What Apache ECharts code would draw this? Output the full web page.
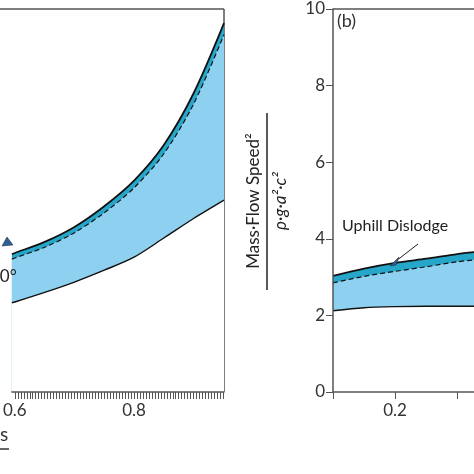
<!DOCTYPE html><html><head><meta charset="utf-8"><script src="https://cdn.jsdelivr.net/npm/echarts@6/dist/echarts.min.js"></script>
<style>html,body{margin:0;padding:0;background:#fff}#c{width:474px;height:474px}</style></head><body><div id="c"></div><script>
// Panel (a)
const aX=[0.595,0.6,0.65,0.7,0.75,0.8,0.85,0.9,0.951];
const aUpper=[3.60,3.63,3.92,4.31,4.85,5.52,6.45,7.80,9.63];
const aDashed=[3.47,3.50,3.78,4.16,4.68,5.33,6.22,7.52,9.33];
const aLower=[2.33,2.35,2.60,2.87,3.18,3.52,4.02,4.53,5.01];
// Panel (b)
const bX=[0.1,0.15,0.2,0.25,0.3,0.327];
const bUpper=[3.03,3.22,3.37,3.48,3.60,3.65];
const bDashed=[2.85,3.02,3.15,3.27,3.40,3.45];
const bLower=[2.12,2.20,2.23,2.24,2.24,2.24];
const yTicks=[0,2,4,6,8,10];
const aTicks=[0.6,0.8];
const bTicks=[0.2];

const F='Lato, "DejaVu Sans", sans-serif';
const LIGHT='#8ed0ef', TEAL='#26a6c9';
function pts(x,y){return x.map((v,i)=>[v,y[i]]);}
function band(gi,x,up,da,lo){
  const base={type:'line',xAxisIndex:gi,yAxisIndex:gi,symbol:'none',smooth:0.3};
  return [
    {...base,data:pts(x,up),z:1,lineStyle:{opacity:0},areaStyle:{color:TEAL,opacity:1,origin:'start'}},
    {...base,data:pts(x,da),z:2,lineStyle:{opacity:0},areaStyle:{color:LIGHT,opacity:1,origin:'start'}},
    {...base,data:pts(x,lo),z:3,lineStyle:{opacity:0},areaStyle:{color:'#fff',opacity:1,origin:'start'}},
    {...base,data:pts(x,up),z:5,lineStyle:{color:'#111',width:1.8}},
    {...base,data:pts(x,da),z:5,lineStyle:{color:'#111',width:1.2,type:[5,3]}},
    {...base,data:pts(x,lo),z:5,lineStyle:{color:'#111',width:1.4}}
  ];
}
const near=(v,arr)=>arr.some(t=>Math.abs(t-v)<1e-6);
const axLine={show:true,lineStyle:{color:'#555',width:1.5}};
const c=echarts.init(document.getElementById('c'));
c.setOption({
  animation:false,
  grid:[{left:0,right:250,top:9,bottom:82},{left:333,right:0,top:9,bottom:82}],
  xAxis:[
    {type:'value',gridIndex:0,min:0.595,max:0.951,interval:0.005,axisLine:axLine,splitLine:{show:false},z:10,
     axisTick:{show:true,length:7,lineStyle:{color:'#555'},interval:(i,v)=>near(+v,aTicks)},
     axisLabel:{fontFamily:F,fontSize:17,color:'#333',margin:10,showMaxLabel:false,showMinLabel:false,formatter:v=>near(v,aTicks)?v.toFixed(1):''}},
    {type:'value',gridIndex:1,min:0.1,max:0.327,interval:0.1,axisLine:axLine,splitLine:{show:false},z:10,
     axisTick:{show:true,length:7,lineStyle:{color:'#555'},interval:(i,v)=>near(+v,bTicks)},
     axisLabel:{fontFamily:F,fontSize:17,color:'#333',margin:10,showMaxLabel:false,formatter:v=>near(v,bTicks)?v.toFixed(1):''}}
  ],
  yAxis:[
    {type:'value',gridIndex:0,min:0,max:10,interval:2,axisLine:{show:false},axisTick:{show:false},axisLabel:{show:false},splitLine:{show:false}},
    {type:'value',gridIndex:1,min:0,max:10,interval:2,axisLine:axLine,z:10,axisTick:{show:true,length:7,lineStyle:{color:'#555'}},splitLine:{show:false},
     axisLabel:{fontFamily:F,fontSize:17,color:'#333',margin:8,formatter:v=>yTicks.includes(v)?String(v):''}}
  ],
  series:[...band(0,aX,aUpper,aDashed,aLower),...band(1,bX,bUpper,bDashed,bLower)],
  graphic:[
    {type:'line',shape:{x1:0,y1:9,x2:224,y2:9},style:{stroke:'#555',lineWidth:1.5}},
    {type:'line',shape:{x1:224,y1:9,x2:224,y2:392},style:{stroke:'#555',lineWidth:1.5}},
    {type:'line',shape:{x1:333,y1:9,x2:474,y2:9},style:{stroke:'#555',lineWidth:1.5}},
    {type:'text',left:337,top:12,style:{text:'(b)',font:'18px '+F,fill:'#333'}},
    {type:'text',x:342,y:218,style:{text:'Uphill Dislodge',font:'16px '+F,fill:'#222'}},
    {type:'line',z:20,shape:{x1:418,y1:244,x2:396,y2:261},style:{stroke:'#222',lineWidth:1}},
    {type:'polygon',z:20,shape:{points:[[390,266],[399,257],[396,265]]},style:{fill:'#2a5f9a',stroke:'#222',lineWidth:0.5}},
    {type:'polygon',z:20,shape:{points:[[2,246],[13,245],[7,237]]},style:{fill:'#2a5f9a',stroke:'#222',lineWidth:0.5}},
    {type:'text',z:20,x:-10,y:268,style:{text:'30°',font:'17px '+F,fill:'#222'}},
    {type:'text',x:0,y:425,style:{text:'s',font:'19px '+F,fill:'#333'}},
    {type:'line',shape:{x1:0,y1:449,x2:9,y2:449},style:{stroke:'#333',lineWidth:1.5}},
    {type:'text',rotation:Math.PI/2,x:254,y:201,style:{text:'Mass·Flow Speed²',font:'17px '+F,fill:'#222',align:'center',verticalAlign:'middle'}},
    {type:'line',shape:{x1:267,y1:113,x2:267,y2:290},style:{stroke:'#222',lineWidth:1.5}},
    {type:'text',rotation:Math.PI/2,x:281,y:201,style:{text:'ρ·g·a²·c²',font:'italic 17px '+F,fill:'#222',align:'center',verticalAlign:'middle'}}
  ]
});
</script></body></html>
